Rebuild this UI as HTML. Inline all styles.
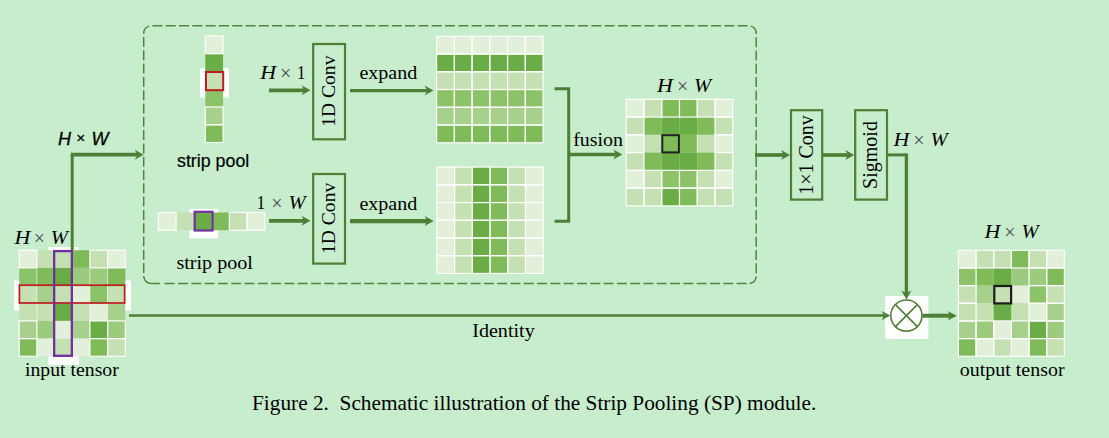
<!DOCTYPE html>
<html><head><meta charset="utf-8"><title>Figure 2</title>
<style>
html,body{margin:0;padding:0;background:#c7edcc;}
body{width:1109px;height:438px;overflow:hidden;}
svg{display:block;}
</style></head><body>
<svg width="1109" height="438" viewBox="0 0 1109 438">
<rect width="1109" height="438" fill="#c7edcc"/>
<rect x="14" y="280.5" width="117" height="30" fill="#fff"/>
<rect x="48.3" y="247" width="30.5" height="117.9" fill="#fff"/>
<rect x="19.20" y="250.20" width="17.68" height="17.68" fill="#e2efd9"/>
<rect x="36.88" y="250.20" width="17.68" height="17.68" fill="#c5e0b3"/>
<rect x="54.56" y="250.20" width="17.68" height="17.68" fill="#c5e0b3"/>
<rect x="72.24" y="250.20" width="17.68" height="17.68" fill="#80bb5a"/>
<rect x="89.92" y="250.20" width="17.68" height="17.68" fill="#c5e0b3"/>
<rect x="107.60" y="250.20" width="17.68" height="17.68" fill="#e2efd9"/>
<rect x="19.20" y="267.88" width="17.68" height="17.68" fill="#8cc368"/>
<rect x="36.88" y="267.88" width="17.68" height="17.68" fill="#80bb5a"/>
<rect x="54.56" y="267.88" width="17.68" height="17.68" fill="#6aac45"/>
<rect x="72.24" y="267.88" width="17.68" height="17.68" fill="#9ccb7e"/>
<rect x="89.92" y="267.88" width="17.68" height="17.68" fill="#9ccb7e"/>
<rect x="107.60" y="267.88" width="17.68" height="17.68" fill="#80bb5a"/>
<rect x="19.20" y="285.56" width="17.68" height="17.68" fill="#c5e0b3"/>
<rect x="36.88" y="285.56" width="17.68" height="17.68" fill="#a8d08d"/>
<rect x="54.56" y="285.56" width="17.68" height="17.68" fill="#c5e0b3"/>
<rect x="72.24" y="285.56" width="17.68" height="17.68" fill="#e2efd9"/>
<rect x="89.92" y="285.56" width="17.68" height="17.68" fill="#8cc368"/>
<rect x="107.60" y="285.56" width="17.68" height="17.68" fill="#c5e0b3"/>
<rect x="19.20" y="303.24" width="17.68" height="17.68" fill="#c5e0b3"/>
<rect x="36.88" y="303.24" width="17.68" height="17.68" fill="#c5e0b3"/>
<rect x="54.56" y="303.24" width="17.68" height="17.68" fill="#6aac45"/>
<rect x="72.24" y="303.24" width="17.68" height="17.68" fill="#c5e0b3"/>
<rect x="89.92" y="303.24" width="17.68" height="17.68" fill="#e2efd9"/>
<rect x="107.60" y="303.24" width="17.68" height="17.68" fill="#a8d08d"/>
<rect x="19.20" y="320.92" width="17.68" height="17.68" fill="#a8d08d"/>
<rect x="36.88" y="320.92" width="17.68" height="17.68" fill="#9ccb7e"/>
<rect x="54.56" y="320.92" width="17.68" height="17.68" fill="#e2efd9"/>
<rect x="72.24" y="320.92" width="17.68" height="17.68" fill="#a8d08d"/>
<rect x="89.92" y="320.92" width="17.68" height="17.68" fill="#6aac45"/>
<rect x="107.60" y="320.92" width="17.68" height="17.68" fill="#9ccb7e"/>
<rect x="19.20" y="338.60" width="17.68" height="17.68" fill="#80bb5a"/>
<rect x="36.88" y="338.60" width="17.68" height="17.68" fill="#e2efd9"/>
<rect x="54.56" y="338.60" width="17.68" height="17.68" fill="#c5e0b3"/>
<rect x="72.24" y="338.60" width="17.68" height="17.68" fill="#e2efd9"/>
<rect x="89.92" y="338.60" width="17.68" height="17.68" fill="#80bb5a"/>
<rect x="107.60" y="338.60" width="17.68" height="17.68" fill="#c5e0b3"/>
<rect x="19.20" y="250.20" width="17.68" height="17.68" fill="none" stroke="#fff" stroke-width="1.15"/>
<rect x="89.92" y="250.20" width="17.68" height="17.68" fill="none" stroke="#fff" stroke-width="1.15"/>
<rect x="107.60" y="250.20" width="17.68" height="17.68" fill="none" stroke="#fff" stroke-width="1.15"/>
<rect x="19.20" y="320.92" width="17.68" height="17.68" fill="none" stroke="#fff" stroke-width="1.15"/>
<rect x="89.92" y="320.92" width="17.68" height="17.68" fill="none" stroke="#fff" stroke-width="1.15"/>
<rect x="107.60" y="320.92" width="17.68" height="17.68" fill="none" stroke="#fff" stroke-width="1.15"/>
<rect x="19.20" y="338.60" width="17.68" height="17.68" fill="none" stroke="#fff" stroke-width="1.15"/>
<rect x="89.92" y="338.60" width="17.68" height="17.68" fill="none" stroke="#fff" stroke-width="1.15"/>
<rect x="107.60" y="338.60" width="17.68" height="17.68" fill="none" stroke="#fff" stroke-width="1.15"/>
<path d="M72.2 250 V154.7" stroke="#4d7f36" stroke-width="3" fill="none"/>
<line x1="70.7" y1="154.7" x2="138.30" y2="154.7" stroke="#4d7f36" stroke-width="3.7"/>
<path d="M143.7 154.7 L134.70 149.70 L137.40 154.7 L134.70 159.70 Z" fill="#4d7f36"/>
<line x1="36.88" y1="268" x2="36.88" y2="321" stroke="#fff" stroke-width="1" stroke-opacity="0.55"/>
<line x1="89.92" y1="268" x2="89.92" y2="321" stroke="#fff" stroke-width="1" stroke-opacity="0.55"/>
<line x1="107.60" y1="268" x2="107.60" y2="321" stroke="#fff" stroke-width="1" stroke-opacity="0.55"/>
<rect x="19.4" y="285.2" width="105.2" height="17.8" fill="none" stroke="#be1a20" stroke-width="1.7"/>
<rect x="54.15" y="251.1" width="17.7" height="104.7" fill="none" stroke="#7030a0" stroke-width="2.3"/>
<text transform="translate(14.50 243.50) scale(1.12 1)" font-family="Liberation Serif, serif" font-size="19.6" font-style="italic" fill="#000">H</text>
<text transform="translate(33.70 244.50) scale(1.0 1)" font-family="Liberation Serif, serif" font-size="20" fill="#4a4a55">×</text>
<text transform="translate(50.80 243.50) scale(1.05 1)" font-family="Liberation Serif, serif" font-size="19.6" font-style="italic" fill="#000">W</text>
<text x="25.0" y="375.7" font-family="Liberation Serif, serif" font-size="19.8" fill="#000" textLength="93.80" lengthAdjust="spacingAndGlyphs" >input tensor</text>
<text x="58" y="145" font-family="Liberation Sans, sans-serif" font-size="18" font-style="italic" fill="#000" stroke="#000" stroke-width="0.3">H<tspan x="76.3" dy="-2.1" font-size="15.4" font-style="normal">×</tspan><tspan x="91.4" dy="2.1">W</tspan></text>
<path d="M143.7 273.1 V33.4 A7.6 7.6 0 0 1 151.29999999999998 25.8 H748.6 A7.6 7.6 0 0 1 756.2 33.4 V276.0 A7.6 7.6 0 0 1 748.6 283.6 H163.2" fill="none" stroke="#54843b" stroke-width="1.5" stroke-dasharray="10 3.3"/>
<path d="M159.8 283.6 H151.29999999999998 A7.6 7.6 0 0 1 143.7 276.0 V276.4" fill="none" stroke="#54843b" stroke-width="1.5"/>
<rect x="200" y="68" width="29" height="29.5" fill="#fff"/>
<rect x="205.30" y="36.00" width="17.75" height="17.75" fill="#e2efd9"/>
<rect x="205.30" y="53.75" width="17.75" height="17.75" fill="#6aac45"/>
<rect x="205.30" y="71.50" width="17.75" height="17.75" fill="#c5e0b3"/>
<rect x="205.30" y="89.25" width="17.75" height="17.75" fill="#8cc368"/>
<rect x="205.30" y="107.00" width="17.75" height="17.75" fill="#a8d08d"/>
<rect x="205.30" y="124.75" width="17.75" height="17.75" fill="#80bb5a"/>
<rect x="205.30" y="36.00" width="17.75" height="17.75" fill="none" stroke="#fff" stroke-width="1.15"/>
<rect x="205.30" y="107.00" width="17.75" height="17.75" fill="none" stroke="#fff" stroke-width="1.15"/>
<rect x="205.30" y="124.75" width="17.75" height="17.75" fill="none" stroke="#fff" stroke-width="1.15"/>
<rect x="206" y="72" width="17.2" height="18.2" fill="none" stroke="#be1a20" stroke-width="2"/>
<text x="177.0" y="166.8" font-family="Liberation Sans, sans-serif" font-size="17.6" fill="#000" textLength="72.30" lengthAdjust="spacingAndGlyphs" stroke="#000" stroke-width="0.2">strip pool</text>
<text transform="translate(260.20 78.80) scale(1.12 1)" font-family="Liberation Serif, serif" font-size="19.6" font-style="italic" fill="#000">H</text>
<text transform="translate(280.10 79.80) scale(1.0 1)" font-family="Liberation Serif, serif" font-size="20" fill="#4a4a55">×</text>
<text transform="translate(297.00 78.80) scale(0.85 1)" font-family="Liberation Serif, serif" font-size="19.6" fill="#000">1</text>
<line x1="269" y1="90.3" x2="305.10" y2="90.3" stroke="#4d7f36" stroke-width="3.7"/>
<path d="M310.5 90.3 L301.50 85.30 L304.20 90.3 L301.50 95.30 Z" fill="#4d7f36"/>
<rect x="313.2" y="44" width="31.80" height="95.30" fill="none" stroke="#4d7f36" stroke-width="2.2"/>
<text transform="translate(335.0 91.2) rotate(-90)" text-anchor="middle" font-family="Liberation Serif, serif" font-size="19.6" fill="#000">1D Conv</text>
<rect x="189.2" y="208.9" width="29.0" height="29.5" fill="#fff"/>
<rect x="158.30" y="212.50" width="17.75" height="17.75" fill="#e2efd9"/>
<rect x="176.05" y="212.50" width="17.75" height="17.75" fill="#c5e0b3"/>
<rect x="193.80" y="212.50" width="17.75" height="17.75" fill="#6aac45"/>
<rect x="211.55" y="212.50" width="17.75" height="17.75" fill="#80bb5a"/>
<rect x="229.30" y="212.50" width="17.75" height="17.75" fill="#c5e0b3"/>
<rect x="247.05" y="212.50" width="17.75" height="17.75" fill="#e2efd9"/>
<rect x="158.30" y="212.50" width="17.75" height="17.75" fill="none" stroke="#fff" stroke-width="1.15"/>
<rect x="229.30" y="212.50" width="17.75" height="17.75" fill="none" stroke="#fff" stroke-width="1.15"/>
<rect x="247.05" y="212.50" width="17.75" height="17.75" fill="none" stroke="#fff" stroke-width="1.15"/>
<rect x="194.7" y="211.8" width="17.8" height="18.7" fill="none" stroke="#7030a0" stroke-width="2.2"/>
<text x="176.4" y="268.7" font-family="Liberation Serif, serif" font-size="19.8" fill="#000" textLength="76.50" lengthAdjust="spacingAndGlyphs" >strip pool</text>
<text transform="translate(256.80 208.60) scale(0.85 1)" font-family="Liberation Serif, serif" font-size="19.6" fill="#000">1</text>
<text transform="translate(271.30 209.60) scale(1.0 1)" font-family="Liberation Serif, serif" font-size="20" fill="#4a4a55">×</text>
<text transform="translate(288.60 208.60) scale(1.05 1)" font-family="Liberation Serif, serif" font-size="19.6" font-style="italic" fill="#000">W</text>
<line x1="269" y1="220.8" x2="305.10" y2="220.8" stroke="#4d7f36" stroke-width="3.7"/>
<path d="M310.5 220.8 L301.50 215.80 L304.20 220.8 L301.50 225.80 Z" fill="#4d7f36"/>
<rect x="313.2" y="174" width="31.80" height="89.60" fill="none" stroke="#4d7f36" stroke-width="2.2"/>
<text transform="translate(334.6 218.4) rotate(-90)" text-anchor="middle" font-family="Liberation Serif, serif" font-size="19.6" fill="#000">1D Conv</text>
<text x="359.4" y="78.5" font-family="Liberation Serif, serif" font-size="19.8" fill="#000" textLength="57.90" lengthAdjust="spacingAndGlyphs" >expand</text>
<line x1="350.0" y1="90.6" x2="428.20" y2="90.6" stroke="#4d7f36" stroke-width="3.3"/>
<path d="M433.6 90.6 L424.60 85.60 L427.30 90.6 L424.60 95.60 Z" fill="#4d7f36"/>
<text x="359.4" y="209.8" font-family="Liberation Serif, serif" font-size="19.8" fill="#000" textLength="57.90" lengthAdjust="spacingAndGlyphs" >expand</text>
<line x1="350.0" y1="221.1" x2="428.20" y2="221.1" stroke="#4d7f36" stroke-width="4.1"/>
<path d="M433.6 221.1 L424.60 216.10 L427.30 221.1 L424.60 226.10 Z" fill="#4d7f36"/>
<rect x="436.60" y="36.30" width="17.74" height="17.74" fill="#e2efd9"/>
<rect x="454.34" y="36.30" width="17.74" height="17.74" fill="#e2efd9"/>
<rect x="472.08" y="36.30" width="17.74" height="17.74" fill="#e2efd9"/>
<rect x="489.82" y="36.30" width="17.74" height="17.74" fill="#e2efd9"/>
<rect x="507.56" y="36.30" width="17.74" height="17.74" fill="#e2efd9"/>
<rect x="525.30" y="36.30" width="17.74" height="17.74" fill="#e2efd9"/>
<rect x="436.60" y="54.04" width="17.74" height="17.74" fill="#6aac45"/>
<rect x="454.34" y="54.04" width="17.74" height="17.74" fill="#6aac45"/>
<rect x="472.08" y="54.04" width="17.74" height="17.74" fill="#6aac45"/>
<rect x="489.82" y="54.04" width="17.74" height="17.74" fill="#6aac45"/>
<rect x="507.56" y="54.04" width="17.74" height="17.74" fill="#6aac45"/>
<rect x="525.30" y="54.04" width="17.74" height="17.74" fill="#6aac45"/>
<rect x="436.60" y="71.78" width="17.74" height="17.74" fill="#c5e0b3"/>
<rect x="454.34" y="71.78" width="17.74" height="17.74" fill="#c5e0b3"/>
<rect x="472.08" y="71.78" width="17.74" height="17.74" fill="#c5e0b3"/>
<rect x="489.82" y="71.78" width="17.74" height="17.74" fill="#c5e0b3"/>
<rect x="507.56" y="71.78" width="17.74" height="17.74" fill="#c5e0b3"/>
<rect x="525.30" y="71.78" width="17.74" height="17.74" fill="#c5e0b3"/>
<rect x="436.60" y="89.52" width="17.74" height="17.74" fill="#8cc368"/>
<rect x="454.34" y="89.52" width="17.74" height="17.74" fill="#8cc368"/>
<rect x="472.08" y="89.52" width="17.74" height="17.74" fill="#8cc368"/>
<rect x="489.82" y="89.52" width="17.74" height="17.74" fill="#8cc368"/>
<rect x="507.56" y="89.52" width="17.74" height="17.74" fill="#8cc368"/>
<rect x="525.30" y="89.52" width="17.74" height="17.74" fill="#8cc368"/>
<rect x="436.60" y="107.26" width="17.74" height="17.74" fill="#a8d08d"/>
<rect x="454.34" y="107.26" width="17.74" height="17.74" fill="#a8d08d"/>
<rect x="472.08" y="107.26" width="17.74" height="17.74" fill="#a8d08d"/>
<rect x="489.82" y="107.26" width="17.74" height="17.74" fill="#a8d08d"/>
<rect x="507.56" y="107.26" width="17.74" height="17.74" fill="#a8d08d"/>
<rect x="525.30" y="107.26" width="17.74" height="17.74" fill="#a8d08d"/>
<rect x="436.60" y="125.00" width="17.74" height="17.74" fill="#80bb5a"/>
<rect x="454.34" y="125.00" width="17.74" height="17.74" fill="#80bb5a"/>
<rect x="472.08" y="125.00" width="17.74" height="17.74" fill="#80bb5a"/>
<rect x="489.82" y="125.00" width="17.74" height="17.74" fill="#80bb5a"/>
<rect x="507.56" y="125.00" width="17.74" height="17.74" fill="#80bb5a"/>
<rect x="525.30" y="125.00" width="17.74" height="17.74" fill="#80bb5a"/>
<rect x="436.60" y="36.30" width="17.74" height="17.74" fill="none" stroke="#fff" stroke-width="1.15"/>
<rect x="454.34" y="36.30" width="17.74" height="17.74" fill="none" stroke="#fff" stroke-width="1.15"/>
<rect x="472.08" y="36.30" width="17.74" height="17.74" fill="none" stroke="#fff" stroke-width="1.15"/>
<rect x="489.82" y="36.30" width="17.74" height="17.74" fill="none" stroke="#fff" stroke-width="1.15"/>
<rect x="507.56" y="36.30" width="17.74" height="17.74" fill="none" stroke="#fff" stroke-width="1.15"/>
<rect x="525.30" y="36.30" width="17.74" height="17.74" fill="none" stroke="#fff" stroke-width="1.15"/>
<rect x="436.60" y="54.04" width="17.74" height="17.74" fill="none" stroke="#fff" stroke-width="1.15"/>
<rect x="454.34" y="54.04" width="17.74" height="17.74" fill="none" stroke="#fff" stroke-width="1.15"/>
<rect x="472.08" y="54.04" width="17.74" height="17.74" fill="none" stroke="#fff" stroke-width="1.15"/>
<rect x="489.82" y="54.04" width="17.74" height="17.74" fill="none" stroke="#fff" stroke-width="1.15"/>
<rect x="507.56" y="54.04" width="17.74" height="17.74" fill="none" stroke="#fff" stroke-width="1.15"/>
<rect x="525.30" y="54.04" width="17.74" height="17.74" fill="none" stroke="#fff" stroke-width="1.15"/>
<rect x="436.60" y="71.78" width="17.74" height="17.74" fill="none" stroke="#fff" stroke-width="1.15"/>
<rect x="454.34" y="71.78" width="17.74" height="17.74" fill="none" stroke="#fff" stroke-width="1.15"/>
<rect x="472.08" y="71.78" width="17.74" height="17.74" fill="none" stroke="#fff" stroke-width="1.15"/>
<rect x="489.82" y="71.78" width="17.74" height="17.74" fill="none" stroke="#fff" stroke-width="1.15"/>
<rect x="507.56" y="71.78" width="17.74" height="17.74" fill="none" stroke="#fff" stroke-width="1.15"/>
<rect x="525.30" y="71.78" width="17.74" height="17.74" fill="none" stroke="#fff" stroke-width="1.15"/>
<rect x="436.60" y="89.52" width="17.74" height="17.74" fill="none" stroke="#fff" stroke-width="1.15"/>
<rect x="454.34" y="89.52" width="17.74" height="17.74" fill="none" stroke="#fff" stroke-width="1.15"/>
<rect x="472.08" y="89.52" width="17.74" height="17.74" fill="none" stroke="#fff" stroke-width="1.15"/>
<rect x="489.82" y="89.52" width="17.74" height="17.74" fill="none" stroke="#fff" stroke-width="1.15"/>
<rect x="507.56" y="89.52" width="17.74" height="17.74" fill="none" stroke="#fff" stroke-width="1.15"/>
<rect x="525.30" y="89.52" width="17.74" height="17.74" fill="none" stroke="#fff" stroke-width="1.15"/>
<rect x="436.60" y="107.26" width="17.74" height="17.74" fill="none" stroke="#fff" stroke-width="1.15"/>
<rect x="454.34" y="107.26" width="17.74" height="17.74" fill="none" stroke="#fff" stroke-width="1.15"/>
<rect x="472.08" y="107.26" width="17.74" height="17.74" fill="none" stroke="#fff" stroke-width="1.15"/>
<rect x="489.82" y="107.26" width="17.74" height="17.74" fill="none" stroke="#fff" stroke-width="1.15"/>
<rect x="507.56" y="107.26" width="17.74" height="17.74" fill="none" stroke="#fff" stroke-width="1.15"/>
<rect x="525.30" y="107.26" width="17.74" height="17.74" fill="none" stroke="#fff" stroke-width="1.15"/>
<rect x="436.60" y="125.00" width="17.74" height="17.74" fill="none" stroke="#fff" stroke-width="1.15"/>
<rect x="454.34" y="125.00" width="17.74" height="17.74" fill="none" stroke="#fff" stroke-width="1.15"/>
<rect x="472.08" y="125.00" width="17.74" height="17.74" fill="none" stroke="#fff" stroke-width="1.15"/>
<rect x="489.82" y="125.00" width="17.74" height="17.74" fill="none" stroke="#fff" stroke-width="1.15"/>
<rect x="507.56" y="125.00" width="17.74" height="17.74" fill="none" stroke="#fff" stroke-width="1.15"/>
<rect x="525.30" y="125.00" width="17.74" height="17.74" fill="none" stroke="#fff" stroke-width="1.15"/>
<rect x="436.90" y="167.10" width="17.72" height="17.72" fill="#e2efd9"/>
<rect x="454.62" y="167.10" width="17.72" height="17.72" fill="#c5e0b3"/>
<rect x="472.34" y="167.10" width="17.72" height="17.72" fill="#6aac45"/>
<rect x="490.06" y="167.10" width="17.72" height="17.72" fill="#80bb5a"/>
<rect x="507.78" y="167.10" width="17.72" height="17.72" fill="#c5e0b3"/>
<rect x="525.50" y="167.10" width="17.72" height="17.72" fill="#e2efd9"/>
<rect x="436.90" y="184.82" width="17.72" height="17.72" fill="#e2efd9"/>
<rect x="454.62" y="184.82" width="17.72" height="17.72" fill="#c5e0b3"/>
<rect x="472.34" y="184.82" width="17.72" height="17.72" fill="#6aac45"/>
<rect x="490.06" y="184.82" width="17.72" height="17.72" fill="#80bb5a"/>
<rect x="507.78" y="184.82" width="17.72" height="17.72" fill="#c5e0b3"/>
<rect x="525.50" y="184.82" width="17.72" height="17.72" fill="#e2efd9"/>
<rect x="436.90" y="202.54" width="17.72" height="17.72" fill="#e2efd9"/>
<rect x="454.62" y="202.54" width="17.72" height="17.72" fill="#c5e0b3"/>
<rect x="472.34" y="202.54" width="17.72" height="17.72" fill="#6aac45"/>
<rect x="490.06" y="202.54" width="17.72" height="17.72" fill="#80bb5a"/>
<rect x="507.78" y="202.54" width="17.72" height="17.72" fill="#c5e0b3"/>
<rect x="525.50" y="202.54" width="17.72" height="17.72" fill="#e2efd9"/>
<rect x="436.90" y="220.26" width="17.72" height="17.72" fill="#e2efd9"/>
<rect x="454.62" y="220.26" width="17.72" height="17.72" fill="#c5e0b3"/>
<rect x="472.34" y="220.26" width="17.72" height="17.72" fill="#6aac45"/>
<rect x="490.06" y="220.26" width="17.72" height="17.72" fill="#80bb5a"/>
<rect x="507.78" y="220.26" width="17.72" height="17.72" fill="#c5e0b3"/>
<rect x="525.50" y="220.26" width="17.72" height="17.72" fill="#e2efd9"/>
<rect x="436.90" y="237.98" width="17.72" height="17.72" fill="#e2efd9"/>
<rect x="454.62" y="237.98" width="17.72" height="17.72" fill="#c5e0b3"/>
<rect x="472.34" y="237.98" width="17.72" height="17.72" fill="#6aac45"/>
<rect x="490.06" y="237.98" width="17.72" height="17.72" fill="#80bb5a"/>
<rect x="507.78" y="237.98" width="17.72" height="17.72" fill="#c5e0b3"/>
<rect x="525.50" y="237.98" width="17.72" height="17.72" fill="#e2efd9"/>
<rect x="436.90" y="255.70" width="17.72" height="17.72" fill="#e2efd9"/>
<rect x="454.62" y="255.70" width="17.72" height="17.72" fill="#c5e0b3"/>
<rect x="472.34" y="255.70" width="17.72" height="17.72" fill="#6aac45"/>
<rect x="490.06" y="255.70" width="17.72" height="17.72" fill="#80bb5a"/>
<rect x="507.78" y="255.70" width="17.72" height="17.72" fill="#c5e0b3"/>
<rect x="525.50" y="255.70" width="17.72" height="17.72" fill="#e2efd9"/>
<rect x="436.90" y="167.10" width="17.72" height="17.72" fill="none" stroke="#fff" stroke-width="1.15"/>
<rect x="454.62" y="167.10" width="17.72" height="17.72" fill="none" stroke="#fff" stroke-width="1.15"/>
<rect x="472.34" y="167.10" width="17.72" height="17.72" fill="none" stroke="#fff" stroke-width="1.15"/>
<rect x="490.06" y="167.10" width="17.72" height="17.72" fill="none" stroke="#fff" stroke-width="1.15"/>
<rect x="507.78" y="167.10" width="17.72" height="17.72" fill="none" stroke="#fff" stroke-width="1.15"/>
<rect x="525.50" y="167.10" width="17.72" height="17.72" fill="none" stroke="#fff" stroke-width="1.15"/>
<rect x="436.90" y="184.82" width="17.72" height="17.72" fill="none" stroke="#fff" stroke-width="1.15"/>
<rect x="454.62" y="184.82" width="17.72" height="17.72" fill="none" stroke="#fff" stroke-width="1.15"/>
<rect x="472.34" y="184.82" width="17.72" height="17.72" fill="none" stroke="#fff" stroke-width="1.15"/>
<rect x="490.06" y="184.82" width="17.72" height="17.72" fill="none" stroke="#fff" stroke-width="1.15"/>
<rect x="507.78" y="184.82" width="17.72" height="17.72" fill="none" stroke="#fff" stroke-width="1.15"/>
<rect x="525.50" y="184.82" width="17.72" height="17.72" fill="none" stroke="#fff" stroke-width="1.15"/>
<rect x="436.90" y="202.54" width="17.72" height="17.72" fill="none" stroke="#fff" stroke-width="1.15"/>
<rect x="454.62" y="202.54" width="17.72" height="17.72" fill="none" stroke="#fff" stroke-width="1.15"/>
<rect x="472.34" y="202.54" width="17.72" height="17.72" fill="none" stroke="#fff" stroke-width="1.15"/>
<rect x="490.06" y="202.54" width="17.72" height="17.72" fill="none" stroke="#fff" stroke-width="1.15"/>
<rect x="507.78" y="202.54" width="17.72" height="17.72" fill="none" stroke="#fff" stroke-width="1.15"/>
<rect x="525.50" y="202.54" width="17.72" height="17.72" fill="none" stroke="#fff" stroke-width="1.15"/>
<rect x="436.90" y="220.26" width="17.72" height="17.72" fill="none" stroke="#fff" stroke-width="1.15"/>
<rect x="454.62" y="220.26" width="17.72" height="17.72" fill="none" stroke="#fff" stroke-width="1.15"/>
<rect x="472.34" y="220.26" width="17.72" height="17.72" fill="none" stroke="#fff" stroke-width="1.15"/>
<rect x="490.06" y="220.26" width="17.72" height="17.72" fill="none" stroke="#fff" stroke-width="1.15"/>
<rect x="507.78" y="220.26" width="17.72" height="17.72" fill="none" stroke="#fff" stroke-width="1.15"/>
<rect x="525.50" y="220.26" width="17.72" height="17.72" fill="none" stroke="#fff" stroke-width="1.15"/>
<rect x="436.90" y="237.98" width="17.72" height="17.72" fill="none" stroke="#fff" stroke-width="1.15"/>
<rect x="454.62" y="237.98" width="17.72" height="17.72" fill="none" stroke="#fff" stroke-width="1.15"/>
<rect x="472.34" y="237.98" width="17.72" height="17.72" fill="none" stroke="#fff" stroke-width="1.15"/>
<rect x="490.06" y="237.98" width="17.72" height="17.72" fill="none" stroke="#fff" stroke-width="1.15"/>
<rect x="507.78" y="237.98" width="17.72" height="17.72" fill="none" stroke="#fff" stroke-width="1.15"/>
<rect x="525.50" y="237.98" width="17.72" height="17.72" fill="none" stroke="#fff" stroke-width="1.15"/>
<rect x="436.90" y="255.70" width="17.72" height="17.72" fill="none" stroke="#fff" stroke-width="1.15"/>
<rect x="454.62" y="255.70" width="17.72" height="17.72" fill="none" stroke="#fff" stroke-width="1.15"/>
<rect x="472.34" y="255.70" width="17.72" height="17.72" fill="none" stroke="#fff" stroke-width="1.15"/>
<rect x="490.06" y="255.70" width="17.72" height="17.72" fill="none" stroke="#fff" stroke-width="1.15"/>
<rect x="507.78" y="255.70" width="17.72" height="17.72" fill="none" stroke="#fff" stroke-width="1.15"/>
<rect x="525.50" y="255.70" width="17.72" height="17.72" fill="none" stroke="#fff" stroke-width="1.15"/>
<path d="M554.5 88.8 H568.7 V221.3 H554.5" stroke="#4d7f36" stroke-width="3" fill="none"/>
<line x1="568.7" y1="154.5" x2="616.90" y2="154.5" stroke="#4d7f36" stroke-width="3.7"/>
<path d="M622.3 154.5 L613.30 149.50 L616.00 154.5 L613.30 159.50 Z" fill="#4d7f36"/>
<text x="573.2" y="146.0" font-family="Liberation Serif, serif" font-size="19.5" fill="#000" textLength="49.80" lengthAdjust="spacingAndGlyphs" >fusion</text>
<rect x="626.20" y="99.30" width="17.76" height="17.76" fill="#e2efd9"/>
<rect x="643.96" y="99.30" width="17.76" height="17.76" fill="#c5e0b3"/>
<rect x="661.72" y="99.30" width="17.76" height="17.76" fill="#80bb5a"/>
<rect x="679.48" y="99.30" width="17.76" height="17.76" fill="#80bb5a"/>
<rect x="697.24" y="99.30" width="17.76" height="17.76" fill="#c5e0b3"/>
<rect x="715.00" y="99.30" width="17.76" height="17.76" fill="#e2efd9"/>
<rect x="626.20" y="117.06" width="17.76" height="17.76" fill="#c5e0b3"/>
<rect x="643.96" y="117.06" width="17.76" height="17.76" fill="#80bb5a"/>
<rect x="661.72" y="117.06" width="17.76" height="17.76" fill="#6aac45"/>
<rect x="679.48" y="117.06" width="17.76" height="17.76" fill="#6aac45"/>
<rect x="697.24" y="117.06" width="17.76" height="17.76" fill="#80bb5a"/>
<rect x="715.00" y="117.06" width="17.76" height="17.76" fill="#c5e0b3"/>
<rect x="626.20" y="134.82" width="17.76" height="17.76" fill="#e2efd9"/>
<rect x="643.96" y="134.82" width="17.76" height="17.76" fill="#c5e0b3"/>
<rect x="661.72" y="134.82" width="17.76" height="17.76" fill="#80bb5a"/>
<rect x="679.48" y="134.82" width="17.76" height="17.76" fill="#80bb5a"/>
<rect x="697.24" y="134.82" width="17.76" height="17.76" fill="#c5e0b3"/>
<rect x="715.00" y="134.82" width="17.76" height="17.76" fill="#e2efd9"/>
<rect x="626.20" y="152.58" width="17.76" height="17.76" fill="#c5e0b3"/>
<rect x="643.96" y="152.58" width="17.76" height="17.76" fill="#80bb5a"/>
<rect x="661.72" y="152.58" width="17.76" height="17.76" fill="#6aac45"/>
<rect x="679.48" y="152.58" width="17.76" height="17.76" fill="#6aac45"/>
<rect x="697.24" y="152.58" width="17.76" height="17.76" fill="#80bb5a"/>
<rect x="715.00" y="152.58" width="17.76" height="17.76" fill="#c5e0b3"/>
<rect x="626.20" y="170.34" width="17.76" height="17.76" fill="#e2efd9"/>
<rect x="643.96" y="170.34" width="17.76" height="17.76" fill="#c5e0b3"/>
<rect x="661.72" y="170.34" width="17.76" height="17.76" fill="#8cc368"/>
<rect x="679.48" y="170.34" width="17.76" height="17.76" fill="#8cc368"/>
<rect x="697.24" y="170.34" width="17.76" height="17.76" fill="#c5e0b3"/>
<rect x="715.00" y="170.34" width="17.76" height="17.76" fill="#e2efd9"/>
<rect x="626.20" y="188.10" width="17.76" height="17.76" fill="#c5e0b3"/>
<rect x="643.96" y="188.10" width="17.76" height="17.76" fill="#c5e0b3"/>
<rect x="661.72" y="188.10" width="17.76" height="17.76" fill="#6aac45"/>
<rect x="679.48" y="188.10" width="17.76" height="17.76" fill="#80bb5a"/>
<rect x="697.24" y="188.10" width="17.76" height="17.76" fill="#c5e0b3"/>
<rect x="715.00" y="188.10" width="17.76" height="17.76" fill="#c5e0b3"/>
<rect x="626.20" y="99.30" width="17.76" height="17.76" fill="none" stroke="#fff" stroke-width="1.15"/>
<rect x="643.96" y="99.30" width="17.76" height="17.76" fill="none" stroke="#fff" stroke-width="1.15"/>
<rect x="661.72" y="99.30" width="17.76" height="17.76" fill="none" stroke="#fff" stroke-width="1.15"/>
<rect x="679.48" y="99.30" width="17.76" height="17.76" fill="none" stroke="#fff" stroke-width="1.15"/>
<rect x="697.24" y="99.30" width="17.76" height="17.76" fill="none" stroke="#fff" stroke-width="1.15"/>
<rect x="715.00" y="99.30" width="17.76" height="17.76" fill="none" stroke="#fff" stroke-width="1.15"/>
<rect x="626.20" y="117.06" width="17.76" height="17.76" fill="none" stroke="#fff" stroke-width="1.15"/>
<rect x="715.00" y="117.06" width="17.76" height="17.76" fill="none" stroke="#fff" stroke-width="1.15"/>
<rect x="626.20" y="134.82" width="17.76" height="17.76" fill="none" stroke="#fff" stroke-width="1.15"/>
<rect x="715.00" y="134.82" width="17.76" height="17.76" fill="none" stroke="#fff" stroke-width="1.15"/>
<rect x="626.20" y="152.58" width="17.76" height="17.76" fill="none" stroke="#fff" stroke-width="1.15"/>
<rect x="715.00" y="152.58" width="17.76" height="17.76" fill="none" stroke="#fff" stroke-width="1.15"/>
<rect x="626.20" y="170.34" width="17.76" height="17.76" fill="none" stroke="#fff" stroke-width="1.15"/>
<rect x="643.96" y="170.34" width="17.76" height="17.76" fill="none" stroke="#fff" stroke-width="1.15"/>
<rect x="661.72" y="170.34" width="17.76" height="17.76" fill="none" stroke="#fff" stroke-width="1.15"/>
<rect x="679.48" y="170.34" width="17.76" height="17.76" fill="none" stroke="#fff" stroke-width="1.15"/>
<rect x="697.24" y="170.34" width="17.76" height="17.76" fill="none" stroke="#fff" stroke-width="1.15"/>
<rect x="715.00" y="170.34" width="17.76" height="17.76" fill="none" stroke="#fff" stroke-width="1.15"/>
<rect x="626.20" y="188.10" width="17.76" height="17.76" fill="none" stroke="#fff" stroke-width="1.15"/>
<rect x="643.96" y="188.10" width="17.76" height="17.76" fill="none" stroke="#fff" stroke-width="1.15"/>
<rect x="661.72" y="188.10" width="17.76" height="17.76" fill="none" stroke="#fff" stroke-width="1.15"/>
<rect x="679.48" y="188.10" width="17.76" height="17.76" fill="none" stroke="#fff" stroke-width="1.15"/>
<rect x="697.24" y="188.10" width="17.76" height="17.76" fill="none" stroke="#fff" stroke-width="1.15"/>
<rect x="715.00" y="188.10" width="17.76" height="17.76" fill="none" stroke="#fff" stroke-width="1.15"/>
<line x1="697.24" y1="134.82" x2="697.24" y2="152.58" stroke="#fff" stroke-width="1" stroke-opacity="0.6"/>
<rect x="662.3" y="135.2" width="16.6" height="17.2" fill="none" stroke="#222" stroke-width="2"/>
<text transform="translate(657.00 91.90) scale(1.12 1)" font-family="Liberation Serif, serif" font-size="19.6" font-style="italic" fill="#000">H</text>
<text transform="translate(676.90 92.90) scale(1.0 1)" font-family="Liberation Serif, serif" font-size="20" fill="#4a4a55">×</text>
<text transform="translate(694.10 91.90) scale(1.05 1)" font-family="Liberation Serif, serif" font-size="19.6" font-style="italic" fill="#000">W</text>
<line x1="755" y1="155" x2="784.60" y2="155" stroke="#4d7f36" stroke-width="3.7"/>
<path d="M790 155 L781.00 150.00 L783.70 155 L781.00 160.00 Z" fill="#4d7f36"/>
<rect x="791" y="110.2" width="31.20" height="89.40" fill="none" stroke="#4d7f36" stroke-width="2.2"/>
<text transform="translate(813 155) rotate(-90)" text-anchor="middle" font-family="Liberation Serif, serif" font-size="20" fill="#000">1×1 Conv</text>
<line x1="823" y1="155" x2="848.90" y2="155" stroke="#4d7f36" stroke-width="3.7"/>
<path d="M854.3 155 L845.30 150.00 L848.00 155 L845.30 160.00 Z" fill="#4d7f36"/>
<rect x="855.2" y="110.2" width="31.80" height="89.40" fill="none" stroke="#4d7f36" stroke-width="2.2"/>
<text transform="translate(877.3 155) rotate(-90)" text-anchor="middle" font-family="Liberation Serif, serif" font-size="20" fill="#000">Sigmoid</text>
<path d="M888 154.9 H906.4" stroke="#4d7f36" stroke-width="3" fill="none"/>
<text transform="translate(893.40 145.75) scale(1.12 1)" font-family="Liberation Serif, serif" font-size="19.6" font-style="italic" fill="#000">H</text>
<text transform="translate(913.30 146.75) scale(1.0 1)" font-family="Liberation Serif, serif" font-size="20" fill="#4a4a55">×</text>
<text transform="translate(930.50 145.75) scale(1.05 1)" font-family="Liberation Serif, serif" font-size="19.6" font-style="italic" fill="#000">W</text>
<rect x="885.2" y="296" width="43.2" height="43" fill="#fff"/>
<line x1="906.4" y1="153.4" x2="906.4" y2="294.00" stroke="#4d7f36" stroke-width="3.3"/>
<path d="M906.4 299.4 L901.40 290.40 L906.4 293.10 L911.40 290.40 Z" fill="#4d7f36"/>
<line x1="129" y1="315.55" x2="884" y2="315.55" stroke="#4d7f36" stroke-width="2.6"/>
<path d="M890.3 315.55 L881.5 310.9 L884.2 315.55 L881.5 320.2 Z" fill="#4d7f36"/>
<circle cx="906.4" cy="315.6" r="15.6" fill="none" stroke="#4d7f36" stroke-width="1.55"/>
<path d="M895.4 304.6 L917.4 326.6 M917.4 304.6 L895.4 326.6" stroke="#4d7f36" stroke-width="1.55" fill="none"/>
<line x1="922.5" y1="315.7" x2="951.28" y2="315.7" stroke="#4d7f36" stroke-width="4"/>
<path d="M956.8 315.7 L947.60 310.90 L950.36 315.7 L947.60 320.50 Z" fill="#4d7f36"/>
<text x="472.2" y="336.8" font-family="Liberation Serif, serif" font-size="19.6" fill="#000" textLength="62.50" lengthAdjust="spacingAndGlyphs" >Identity</text>
<rect x="958.40" y="250.30" width="17.66" height="17.66" fill="#e2efd9"/>
<rect x="976.06" y="250.30" width="17.66" height="17.66" fill="#c5e0b3"/>
<rect x="993.72" y="250.30" width="17.66" height="17.66" fill="#c5e0b3"/>
<rect x="1011.38" y="250.30" width="17.66" height="17.66" fill="#80bb5a"/>
<rect x="1029.04" y="250.30" width="17.66" height="17.66" fill="#c5e0b3"/>
<rect x="1046.70" y="250.30" width="17.66" height="17.66" fill="#e2efd9"/>
<rect x="958.40" y="267.96" width="17.66" height="17.66" fill="#8cc368"/>
<rect x="976.06" y="267.96" width="17.66" height="17.66" fill="#80bb5a"/>
<rect x="993.72" y="267.96" width="17.66" height="17.66" fill="#6aac45"/>
<rect x="1011.38" y="267.96" width="17.66" height="17.66" fill="#9ccb7e"/>
<rect x="1029.04" y="267.96" width="17.66" height="17.66" fill="#9ccb7e"/>
<rect x="1046.70" y="267.96" width="17.66" height="17.66" fill="#80bb5a"/>
<rect x="958.40" y="285.62" width="17.66" height="17.66" fill="#c5e0b3"/>
<rect x="976.06" y="285.62" width="17.66" height="17.66" fill="#a8d08d"/>
<rect x="993.72" y="285.62" width="17.66" height="17.66" fill="#c5e0b3"/>
<rect x="1011.38" y="285.62" width="17.66" height="17.66" fill="#e2efd9"/>
<rect x="1029.04" y="285.62" width="17.66" height="17.66" fill="#8cc368"/>
<rect x="1046.70" y="285.62" width="17.66" height="17.66" fill="#c5e0b3"/>
<rect x="958.40" y="303.28" width="17.66" height="17.66" fill="#c5e0b3"/>
<rect x="976.06" y="303.28" width="17.66" height="17.66" fill="#c5e0b3"/>
<rect x="993.72" y="303.28" width="17.66" height="17.66" fill="#6aac45"/>
<rect x="1011.38" y="303.28" width="17.66" height="17.66" fill="#c5e0b3"/>
<rect x="1029.04" y="303.28" width="17.66" height="17.66" fill="#e2efd9"/>
<rect x="1046.70" y="303.28" width="17.66" height="17.66" fill="#a8d08d"/>
<rect x="958.40" y="320.94" width="17.66" height="17.66" fill="#a8d08d"/>
<rect x="976.06" y="320.94" width="17.66" height="17.66" fill="#9ccb7e"/>
<rect x="993.72" y="320.94" width="17.66" height="17.66" fill="#e2efd9"/>
<rect x="1011.38" y="320.94" width="17.66" height="17.66" fill="#a8d08d"/>
<rect x="1029.04" y="320.94" width="17.66" height="17.66" fill="#6aac45"/>
<rect x="1046.70" y="320.94" width="17.66" height="17.66" fill="#9ccb7e"/>
<rect x="958.40" y="338.60" width="17.66" height="17.66" fill="#80bb5a"/>
<rect x="976.06" y="338.60" width="17.66" height="17.66" fill="#e2efd9"/>
<rect x="993.72" y="338.60" width="17.66" height="17.66" fill="#c5e0b3"/>
<rect x="1011.38" y="338.60" width="17.66" height="17.66" fill="#e2efd9"/>
<rect x="1029.04" y="338.60" width="17.66" height="17.66" fill="#80bb5a"/>
<rect x="1046.70" y="338.60" width="17.66" height="17.66" fill="#c5e0b3"/>
<rect x="958.40" y="250.30" width="17.66" height="17.66" fill="none" stroke="#fff" stroke-width="1.15"/>
<rect x="976.06" y="250.30" width="17.66" height="17.66" fill="none" stroke="#fff" stroke-width="1.15"/>
<rect x="993.72" y="250.30" width="17.66" height="17.66" fill="none" stroke="#fff" stroke-width="1.15"/>
<rect x="1011.38" y="250.30" width="17.66" height="17.66" fill="none" stroke="#fff" stroke-width="1.15"/>
<rect x="1029.04" y="250.30" width="17.66" height="17.66" fill="none" stroke="#fff" stroke-width="1.15"/>
<rect x="1046.70" y="250.30" width="17.66" height="17.66" fill="none" stroke="#fff" stroke-width="1.15"/>
<rect x="958.40" y="267.96" width="17.66" height="17.66" fill="none" stroke="#fff" stroke-width="1.15"/>
<rect x="1029.04" y="267.96" width="17.66" height="17.66" fill="none" stroke="#fff" stroke-width="1.15"/>
<rect x="1046.70" y="267.96" width="17.66" height="17.66" fill="none" stroke="#fff" stroke-width="1.15"/>
<rect x="958.40" y="285.62" width="17.66" height="17.66" fill="none" stroke="#fff" stroke-width="1.15"/>
<rect x="1029.04" y="285.62" width="17.66" height="17.66" fill="none" stroke="#fff" stroke-width="1.15"/>
<rect x="1046.70" y="285.62" width="17.66" height="17.66" fill="none" stroke="#fff" stroke-width="1.15"/>
<rect x="958.40" y="303.28" width="17.66" height="17.66" fill="none" stroke="#fff" stroke-width="1.15"/>
<rect x="1029.04" y="303.28" width="17.66" height="17.66" fill="none" stroke="#fff" stroke-width="1.15"/>
<rect x="1046.70" y="303.28" width="17.66" height="17.66" fill="none" stroke="#fff" stroke-width="1.15"/>
<rect x="958.40" y="320.94" width="17.66" height="17.66" fill="none" stroke="#fff" stroke-width="1.15"/>
<rect x="976.06" y="320.94" width="17.66" height="17.66" fill="none" stroke="#fff" stroke-width="1.15"/>
<rect x="993.72" y="320.94" width="17.66" height="17.66" fill="none" stroke="#fff" stroke-width="1.15"/>
<rect x="1011.38" y="320.94" width="17.66" height="17.66" fill="none" stroke="#fff" stroke-width="1.15"/>
<rect x="1029.04" y="320.94" width="17.66" height="17.66" fill="none" stroke="#fff" stroke-width="1.15"/>
<rect x="1046.70" y="320.94" width="17.66" height="17.66" fill="none" stroke="#fff" stroke-width="1.15"/>
<rect x="958.40" y="338.60" width="17.66" height="17.66" fill="none" stroke="#fff" stroke-width="1.15"/>
<rect x="976.06" y="338.60" width="17.66" height="17.66" fill="none" stroke="#fff" stroke-width="1.15"/>
<rect x="993.72" y="338.60" width="17.66" height="17.66" fill="none" stroke="#fff" stroke-width="1.15"/>
<rect x="1011.38" y="338.60" width="17.66" height="17.66" fill="none" stroke="#fff" stroke-width="1.15"/>
<rect x="1029.04" y="338.60" width="17.66" height="17.66" fill="none" stroke="#fff" stroke-width="1.15"/>
<rect x="1046.70" y="338.60" width="17.66" height="17.66" fill="none" stroke="#fff" stroke-width="1.15"/>
<rect x="994.3" y="286.0" width="16.8" height="17.4" fill="none" stroke="#1c1c1c" stroke-width="2.2"/>
<text transform="translate(984.40 237.80) scale(1.12 1)" font-family="Liberation Serif, serif" font-size="19.6" font-style="italic" fill="#000">H</text>
<text transform="translate(1004.30 238.80) scale(1.0 1)" font-family="Liberation Serif, serif" font-size="20" fill="#4a4a55">×</text>
<text transform="translate(1021.50 237.80) scale(1.05 1)" font-family="Liberation Serif, serif" font-size="19.6" font-style="italic" fill="#000">W</text>
<text x="959.8" y="376.0" font-family="Liberation Serif, serif" font-size="19.8" fill="#000" textLength="104.80" lengthAdjust="spacingAndGlyphs" >output tensor</text>
<text x="252.0" y="409.7" font-family="Liberation Serif, serif" font-size="21.0" fill="#000" textLength="564.30" lengthAdjust="spacingAndGlyphs" >Figure 2.&#160;&#160;Schematic illustration of the Strip Pooling (SP) module.</text>
</svg>
</body></html>
